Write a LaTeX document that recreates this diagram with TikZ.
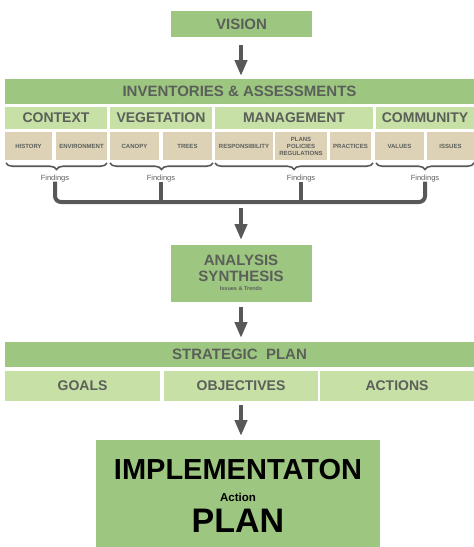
\documentclass[tikz,border=0pt]{standalone}
\usepackage{fontspec}
\setmainfont{Liberation Sans}
\usetikzlibrary{arrows.meta,decorations.pathreplacing}
\definecolor{gmain}{HTML}{9DC680}
\definecolor{glight}{HTML}{C6E0A6}
\definecolor{tan}{HTML}{DDD1B6}
\definecolor{txt}{HTML}{5B5F5A}
\definecolor{dark}{HTML}{585858}
\tikzset{
  box/.style={anchor=north west, inner sep=0pt, outer sep=0pt, align=center, text=txt, font=\bfseries},
  bigbar/.style={box, fill=gmain, font=\fontsize{15}{15}\selectfont\bfseries},
  cat/.style={box, fill=glight, font=\fontsize{14}{14}\selectfont\bfseries},
  sub/.style={box, fill=tan, font=\fontsize{6}{7}\selectfont\bfseries},
  find/.style={text=txt, inner sep=0pt, font=\fontsize{7.5}{8}\selectfont},
  flow/.style={draw=dark, line width=4.5pt, -{Triangle[width=12pt,length=16pt]}},
  conn/.style={draw=dark, line width=4pt, rounded corners=6pt},
  brc/.style={draw=dark, line width=1.6pt, decorate, decoration={brace, mirror, amplitude=6.5pt}}
}
\begin{document}
\begin{tikzpicture}[x=1pt,y=-1pt]
\useasboundingbox (0,0) rectangle (474,547);
% vision
\node[bigbar, minimum width=141pt, minimum height=26pt] (vision) at (171,11) {VISION};
% inventories
\node[bigbar, minimum width=469pt, minimum height=25pt] (inv) at (5,79) {INVENTORIES \& ASSESSMENTS};
\node[cat, minimum width=102pt, minimum height=22pt] (ctx) at (5,107) {CONTEXT};
\node[cat, minimum width=102pt, minimum height=22pt] (veg) at (110,107) {VEGETATION};
\node[cat, minimum width=158pt, minimum height=22pt] (mgt) at (215,107) {MANAGEMENT};
\node[cat, minimum width=98pt, minimum height=22pt] (com) at (376,107) {COMMUNITY};
\node[sub, minimum width=47pt, minimum height=28pt] (hist) at (5,132) {HISTORY};
\node[sub, minimum width=51pt, minimum height=28pt] (env) at (56,132) {ENVIRONMENT};
\node[sub, minimum width=49pt, minimum height=28pt] (can) at (110,132) {CANOPY};
\node[sub, minimum width=49pt, minimum height=28pt] (tre) at (163,132) {TREES};
\node[sub, minimum width=58pt, minimum height=28pt] (res) at (215,132) {RESPONSIBILITY};
\node[sub, minimum width=52pt, minimum height=28pt] (pla) at (275,132) {PLANS\\POLICIES\\REGULATIONS};
\node[sub, minimum width=41pt, minimum height=28pt] (pra) at (330,132) {PRACTICES};
\node[sub, minimum width=49pt, minimum height=28pt] (val) at (375,132) {VALUES};
\node[sub, minimum width=47pt, minimum height=28pt] (iss) at (427,132) {ISSUES};
% braces
\coordinate (b1a) at (6,163); \coordinate (b1b) at (107,163);
\coordinate (b2a) at (110,163); \coordinate (b2b) at (213,163);
\coordinate (b3a) at (215,163); \coordinate (b3b) at (373,163);
\coordinate (b4a) at (376,163); \coordinate (b4b) at (474,163);
\draw[brc] (b1a) -- (b1b);
\draw[brc] (b2a) -- (b2b);
\draw[brc] (b3a) -- (b3b);
\draw[brc] (b4a) -- (b4b);
\node[find] (f1) at (55,179) {Findings};
\node[find] (f2) at (161,179) {Findings};
\node[find] (f3) at (301,179) {Findings};
\node[find] (f4) at (425,179) {Findings};
\coordinate (bar) at (241,202);
\draw[conn] (f1.south) ++(0,-1) |- (bar) -| ([yshift=1pt]f4.south);
\draw[conn] ([yshift=1pt]f2.south) -- (f2.south |- bar);
\draw[conn] ([yshift=1pt]f3.south) -- (f3.south |- bar);
% analysis
\node[bigbar, minimum width=141pt, minimum height=57pt] (ana) at (171,245) {};
\node[text=txt, font=\fontsize{15}{15}\selectfont\bfseries, inner sep=0pt] (ana1) at (241,260) {ANALYSIS};
\node[text=txt, font=\fontsize{15}{15}\selectfont\bfseries, inner sep=0pt] (ana2) at (241,276) {SYNTHESIS};
\node[text=txt, font=\fontsize{5.5}{6}\selectfont\bfseries, inner sep=0pt] (ana3) at (241,289) {Issues \& Trends};
% strategic
\node[bigbar, minimum width=469pt, minimum height=25pt] (sp) at (5,342) {STRATEGIC\ \ PLAN};
\node[cat, minimum width=155pt, minimum height=30pt] (goa) at (5,371) {GOALS};
\node[cat, minimum width=154pt, minimum height=30pt] (obj) at (164,371) {OBJECTIVES};
\node[cat, minimum width=154pt, minimum height=30pt] (act) at (320,371) {ACTIONS};
% implementation
\node[box, fill=gmain, minimum width=284pt, minimum height=107pt] (imp) at (96,440) {};
\node[text=black, font=\fontsize{29}{29}\selectfont\bfseries, inner sep=0pt] (imp1) at (238,470) {IMPLEMENTATON};
\node[text=black, font=\fontsize{11.5}{12}\selectfont\bfseries, inner sep=0pt] (imp2) at (238,497) {Action};
\node[text=black, font=\fontsize{34}{34}\selectfont\bfseries, inner sep=0pt] (imp3) at (238,521) {PLAN};
% arrows
\coordinate (a1s) at (241,45); \coordinate (a1e) at (241,76);
\draw[flow] (a1s) -- (a1e);
\coordinate (a2s) at (241,208); \coordinate (a2e) at (241,240);
\draw[flow] (a2s) -- (a2e);
\coordinate (a3s) at (241,307); \coordinate (a3e) at (241,338);
\draw[flow] (a3s) -- (a3e);
\coordinate (a4s) at (241,405); \coordinate (a4e) at (241,436);
\draw[flow] (a4s) -- (a4e);
\end{tikzpicture}
\end{document}
